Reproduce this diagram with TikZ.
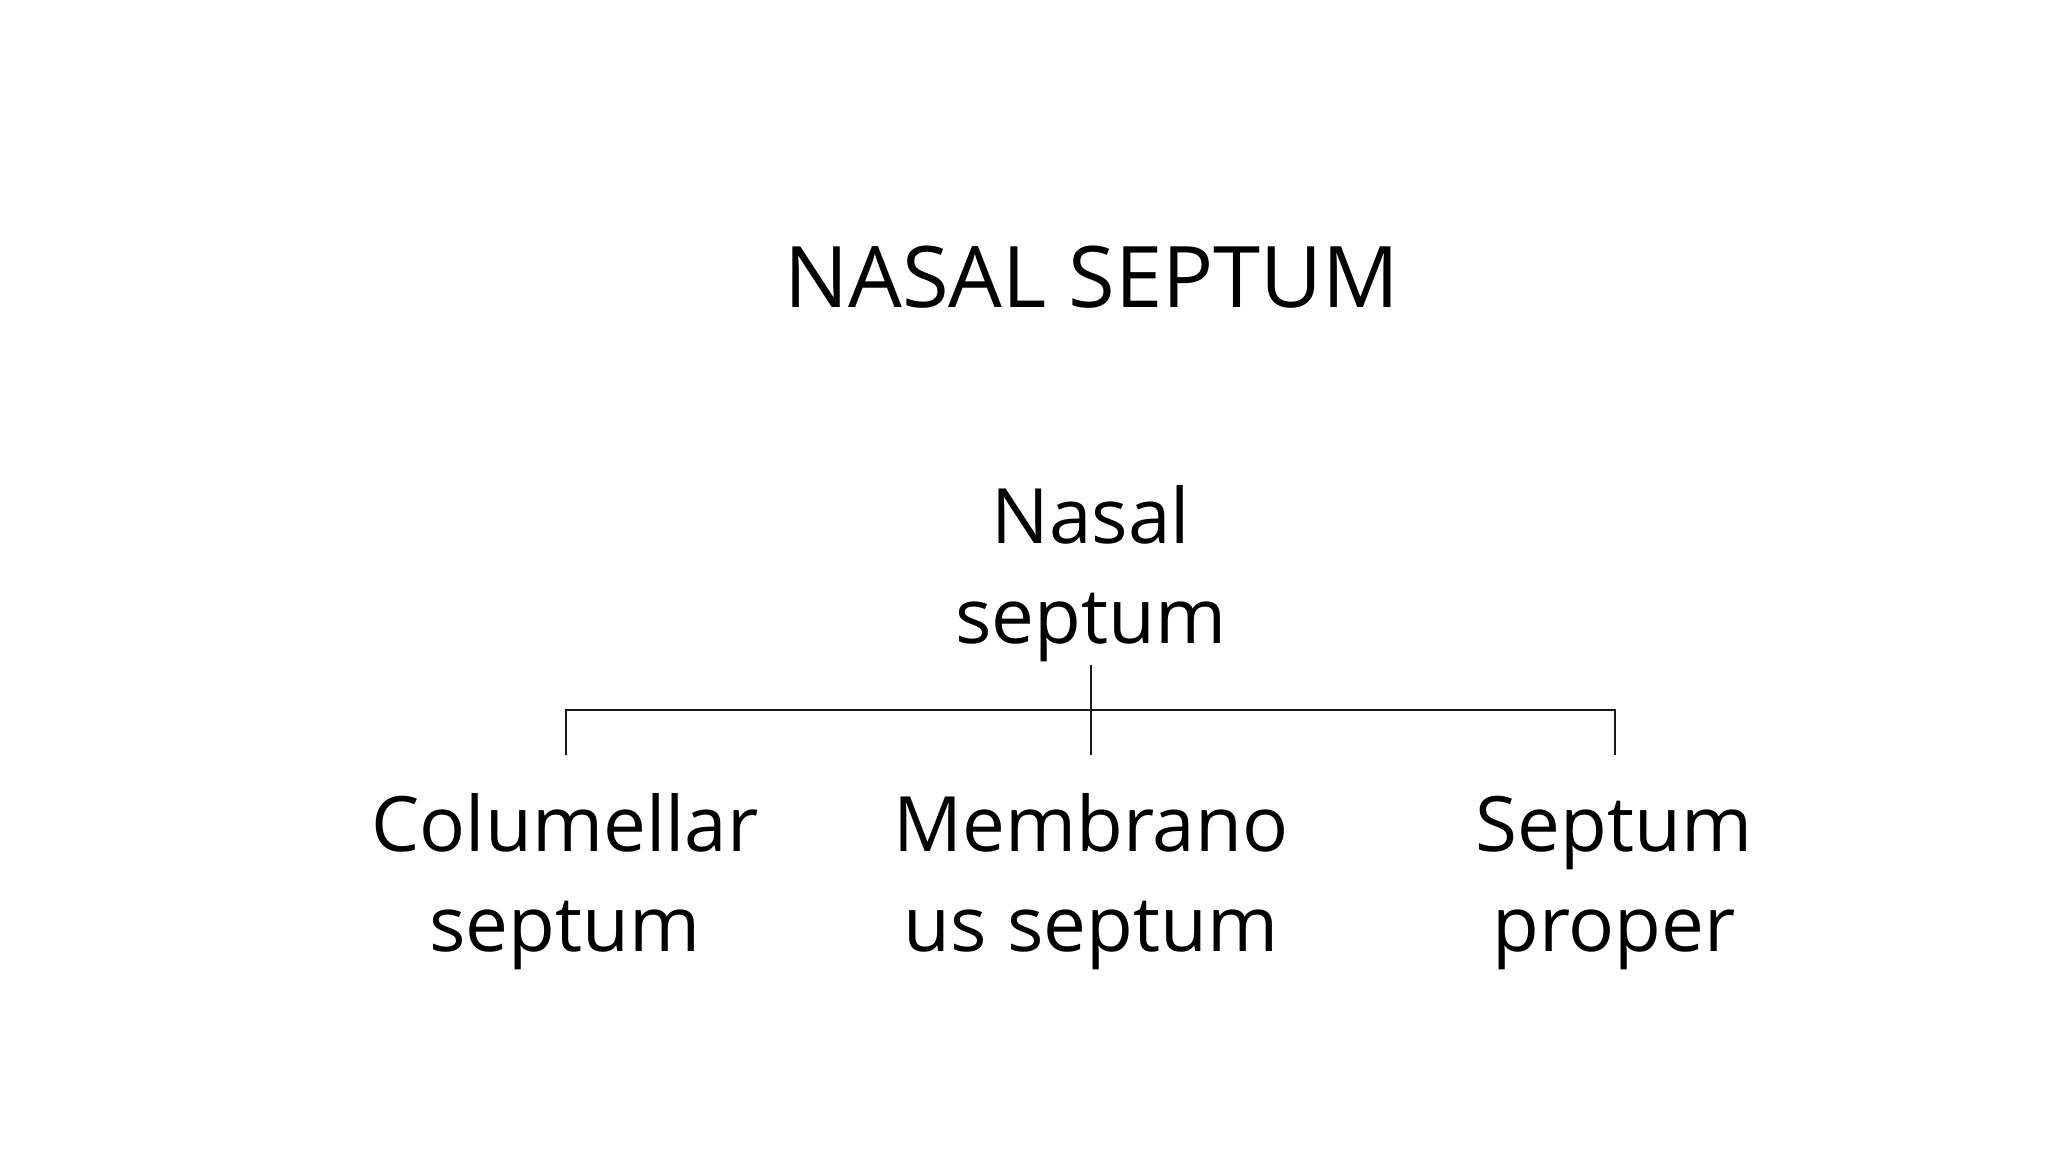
\documentclass[tikz,border=0pt]{standalone}
\usepackage{fontspec}
\setmainfont{Open Sans}
\begin{document}
\begin{tikzpicture}[x=0.5pt,y=-0.5pt,
  titletext/.style={inner sep=0pt,anchor=base,font=\fontsize{42.5}{50}\selectfont},
  itemtext/.style={inner sep=0pt,anchor=base,align=center,font=\fontsize{38.2}{50}\selectfont},
  link/.style={draw=black!90,line width=1.3pt}]
\useasboundingbox (0,0) rectangle (2048,1152);
\node[titletext] (title) at (1092,307) {NASAL SEPTUM};
\node[itemtext] (root) at (1091,643) {Nasal\\septum};
\node[itemtext] (col) at (565,951) {Columellar\\septum};
\node[itemtext] (mem) at (1091,951) {Membrano\\us septum};
\node[itemtext] (sep) at (1614,951) {Septum\\proper};
\coordinate (stemtop) at (1091,665);
\coordinate (bar) at (1091,710);
\coordinate (lcor) at (566,710);
\coordinate (rcor) at (1615,710);
\coordinate (lend) at (566,755);
\coordinate (mend) at (1091,755);
\coordinate (rend) at (1615,755);
\draw[link] (stemtop) -- (mend);
\draw[link] (lend) -- (lcor) -- (rcor) -- (rend);
\end{tikzpicture}
\end{document}
